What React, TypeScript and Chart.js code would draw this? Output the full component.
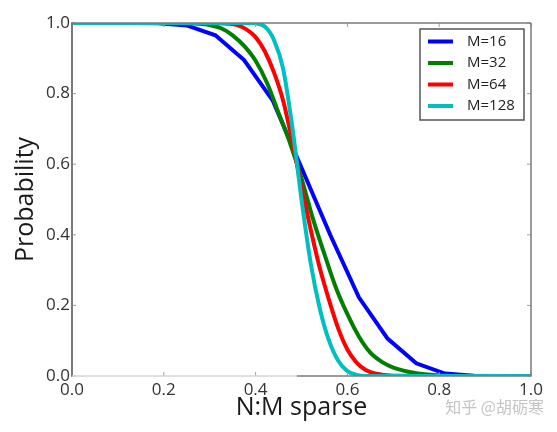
import React, { useEffect, useRef } from "react";
import { Chart, registerables } from "chart.js";

Chart.register(...registerables);

// ---- data ----
const seriesLabels = ["M=16", "M=32", "M=64", "M=128"];
const seriesColors = ["#0000ff", "#007f00", "#ff0000", "#00bfbf"];

const xTicks = [0, 0.2, 0.4, 0.6, 0.8, 1.0];
const yTicks = [0, 0.2, 0.4, 0.6, 0.8, 1.0];

const blueX = [0, 0.0625, 0.125, 0.1875, 0.25, 0.3125, 0.375, 0.4375, 0.5, 0.5625, 0.625, 0.6875, 0.75, 0.8125, 0.875, 0.9375, 1.0];
const blueY = [1, 1, 1, 0.999, 0.993, 0.965, 0.895, 0.78, 0.59, 0.4, 0.223, 0.106, 0.036, 0.007, 0.001, 0, 0];

const greenX = [0, 0.25, 0.275, 0.3, 0.325, 0.35, 0.375, 0.4, 0.425, 0.45, 0.475, 0.5, 0.525, 0.55, 0.575, 0.6, 0.625, 0.65, 0.675, 0.7, 0.75, 0.8, 0.85, 1.0];
const greenY = [1, 1, 0.998, 0.994, 0.985, 0.965, 0.935, 0.893, 0.83, 0.745, 0.66, 0.56, 0.445, 0.345, 0.25, 0.175, 0.112, 0.066, 0.04, 0.024, 0.008, 0.002, 0, 0];

const redX = [0, 0.3, 0.34, 0.36, 0.38, 0.4, 0.42, 0.44, 0.46, 0.48, 0.5, 0.52, 0.54, 0.56, 0.58, 0.6, 0.62, 0.64, 0.66, 0.7, 1.0];
const redY = [1, 1, 0.998, 0.994, 0.982, 0.96, 0.92, 0.86, 0.78, 0.665, 0.535, 0.415, 0.305, 0.215, 0.135, 0.075, 0.038, 0.017, 0.007, 0.001, 0];

const cyanX = [0, 0.38, 0.4, 0.42, 0.44, 0.46, 0.48, 0.5, 0.52, 0.54, 0.56, 0.58, 0.6, 0.62, 0.64, 1.0];
const cyanY = [1, 1, 0.999, 0.99, 0.952, 0.87, 0.705, 0.5, 0.32, 0.19, 0.1, 0.043, 0.014, 0.003, 0, 0];

const xTitle = "N:M sparse";
const yTitle = "Probability";
const watermark = "知乎 @胡砺寒";
const axisSplit = 0.49; // where the bottom spine changes shade in the reference

const FONT = "'Open Sans', 'DejaVu Sans', sans-serif";

function toPoints(xs: number[], ys: number[]) {
  return xs.map((x, i) => ({ x, y: ys[i] }));
}

export default function App() {
  const ref = useRef<HTMLCanvasElement>(null);

  useEffect(() => {
    if (!ref.current) return;

    const line = (ctx: CanvasRenderingContext2D, x1: number, y1: number, x2: number, y2: number) => {
      ctx.beginPath();
      ctx.moveTo(x1, y1);
      ctx.lineTo(x2, y2);
      ctx.stroke();
    };

    const framePlugin = {
      id: "frameTicks",
      afterDatasetsDraw(chart: any) {
        const { ctx, chartArea: a, scales } = chart;
        const xs = scales.x;
        const ys = scales.y;
        ctx.save();
        ctx.lineCap = "butt";
        ctx.strokeStyle = "#a0a0a0";
        ctx.lineWidth = 1;
        for (const v of xTicks) {
          const px = xs.getPixelForValue(v);
          line(ctx, px, a.bottom, px, a.bottom - 4);
          line(ctx, px, a.top, px, a.top + 4);
        }
        for (const v of yTicks) {
          const py = ys.getPixelForValue(v);
          line(ctx, a.left, py, a.left + 4, py);
          line(ctx, a.right, py, a.right - 4, py);
        }
        ctx.strokeStyle = "#7a7a7a";
        ctx.lineWidth = 1.5;
        line(ctx, a.left, a.top, a.right, a.top);
        line(ctx, a.right, a.top, a.right, a.bottom);
        ctx.lineWidth = 2;
        line(ctx, a.left, a.top - 0.75, a.left, a.bottom + 0.75);
        const split = xs.getPixelForValue(axisSplit);
        ctx.lineWidth = 1.5;
        ctx.strokeStyle = "#d4d4d4";
        line(ctx, a.left, a.bottom, split, a.bottom);
        ctx.strokeStyle = "#7a7a7a";
        line(ctx, split, a.bottom, a.right + 0.75, a.bottom);
        ctx.restore();
      },
    };

    const legendPlugin = {
      id: "insideLegend",
      afterDraw(chart: any) {
        const { ctx, chartArea: a } = chart;
        const w = 104;
        const h = 91;
        const left = a.right - 7 - w;
        const top = a.top + 6;
        ctx.save();
        ctx.fillStyle = "#ffffff";
        ctx.fillRect(left, top, w, h);
        ctx.strokeStyle = "#555555";
        ctx.lineWidth = 1.5;
        ctx.strokeRect(left, top, w, h);
        chart.data.datasets.forEach((ds: any, i: number) => {
          const y = top + 12.5 + i * 21.5;
          ctx.strokeStyle = ds.borderColor;
          ctx.lineWidth = 4;
          ctx.lineCap = "butt";
          line(ctx, left + 8, y, left + 33, y);
          ctx.fillStyle = "#222222";
          ctx.font = `15px ${FONT}`;
          ctx.textBaseline = "middle";
          ctx.textAlign = "left";
          ctx.fillText(ds.label, left + 47, y);
        });
        ctx.restore();
      },
    };

    const watermarkPlugin = {
      id: "watermark",
      afterDraw(chart: any) {
        const { ctx } = chart;
        ctx.save();
        ctx.font = `16px 'Noto Sans CJK SC', sans-serif`;
        ctx.fillStyle = "#c4c4c4";
        ctx.textAlign = "right";
        ctx.textBaseline = "middle";
        ctx.fillText(watermark, 544, 407);
        ctx.restore();
      },
    };

    const xsList = [blueX, greenX, redX, cyanX];
    const ysList = [blueY, greenY, redY, cyanY];

    const chart = new Chart(ref.current, {
      type: "scatter",
      data: {
        datasets: seriesLabels.map((label, i) => ({
          label,
          data: toPoints(xsList[i], ysList[i]),
          borderColor: seriesColors[i],
          backgroundColor: seriesColors[i],
          borderWidth: 4,
          showLine: true,
          pointRadius: 0,
          pointHoverRadius: 0,
          tension: 0,
          cubicInterpolationMode: i === 0 ? "default" : "monotone",
          order: 3 - i,
          clip: 0,
        })),
      },
      options: {
        animation: false,
        responsive: false,
        maintainAspectRatio: false,
        layout: { padding: { top: 23, right: 26, left: 0, bottom: 0 } },
        plugins: {
          legend: { display: false },
          tooltip: { enabled: false },
        },
        scales: {
          x: {
            type: "linear",
            min: 0,
            max: 1,
            afterFit(scale: any) {
              scale.height = 56;
            },
            afterBuildTicks(scale: any) {
              scale.ticks = xTicks.map((v) => ({ value: v }));
            },
            grid: { display: false, drawTicks: false },
            border: { display: false },
            ticks: {
              padding: 4,
              color: "#333333",
              font: { family: FONT, size: 17 },
              maxRotation: 0,
              callback: (v: any) => Number(v).toFixed(1),
            },
            title: {
              display: true,
              text: xTitle,
              color: "#1a1a1a",
              font: { family: FONT, size: 25 },
              padding: { top: 0, bottom: 9 },
            },
          },
          y: {
            type: "linear",
            min: 0,
            max: 1,
            afterFit(scale: any) {
              scale.width = 72;
            },
            afterBuildTicks(scale: any) {
              scale.ticks = yTicks.map((v) => ({ value: v }));
            },
            grid: { display: false, drawTicks: false },
            border: { display: false },
            ticks: {
              padding: 2,
              color: "#333333",
              font: { family: FONT, size: 17 },
              callback: (v: any) => Number(v).toFixed(1),
            },
            title: {
              display: true,
              text: yTitle,
              color: "#1a1a1a",
              font: { family: FONT, size: 25 },
              padding: { top: 11, bottom: 0 },
            },
          },
        },
      },
      plugins: [framePlugin, legendPlugin, watermarkPlugin],
    } as any);

    return () => chart.destroy();
  }, []);

  return (
    <div style={{ position: "absolute", left: 0, top: 0, width: 557, height: 432, background: "#ffffff" }}>
      <canvas ref={ref} width={557} height={432} style={{ display: "block", width: 557, height: 432 }} />
    </div>
  );
}
